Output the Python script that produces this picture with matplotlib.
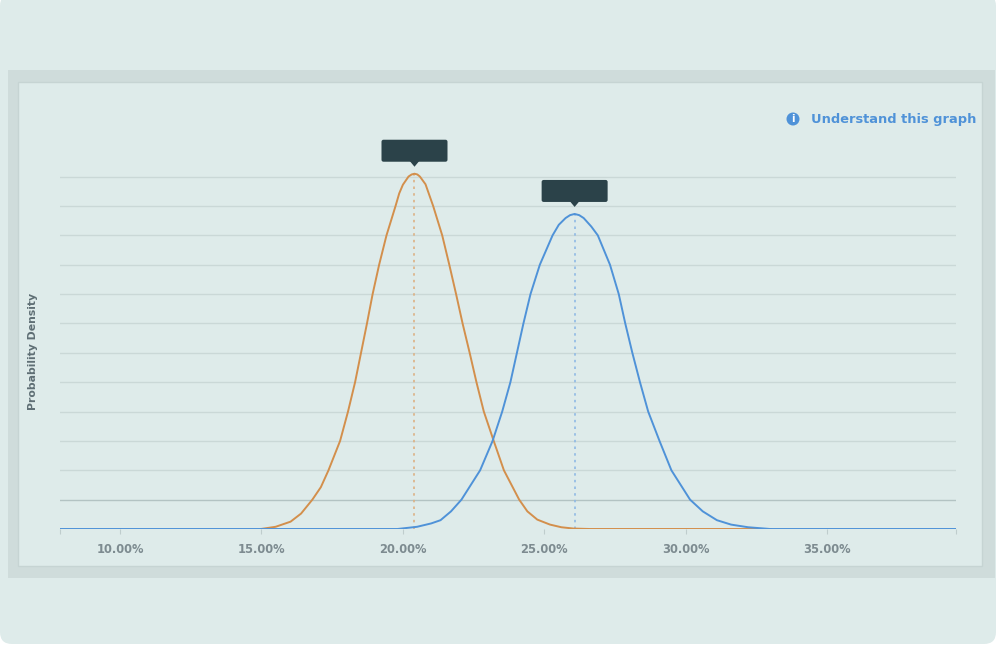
import numpy as np
import matplotlib.pyplot as plt
from matplotlib.patches import FancyBboxPatch, Rectangle, Polygon, Circle
from matplotlib.transforms import IdentityTransform

# return (%) and probability density
orange_x = [14.98, 15.5, 16.03, 16.4, 16.80, 17.1, 17.37, 17.78, 18.06, 18.31,
            18.52, 18.73, 18.93, 19.16, 19.42, 19.74, 19.87, 20.0, 20.2, 20.31,
            20.41, 20.51, 20.6, 20.8, 21.07, 21.39, 21.64, 21.88, 22.11, 22.36,
            22.60, 22.86, 23.21, 23.57, 24.11, 24.4, 24.75, 25.2, 25.6, 26.03,
            26.6, 33.0]
orange_y = [0.0, 0.0015, 0.005, 0.0105, 0.020, 0.0285, 0.040, 0.060, 0.080, 0.100,
            0.120, 0.140, 0.160, 0.180, 0.200, 0.220, 0.2286, 0.2345, 0.2401, 0.2415,
            0.242, 0.2415, 0.2401, 0.2348, 0.220, 0.200, 0.180, 0.160, 0.140, 0.120,
            0.100, 0.080, 0.060, 0.040, 0.020, 0.012, 0.0064, 0.003, 0.0012, 0.0003,
            0.0, 0.0]

blue_x = [7.88, 19.81, 20.5, 21.0, 21.33, 21.7, 22.07, 22.73, 23.17, 23.51,
          23.80, 24.03, 24.26, 24.51, 24.84, 25.29, 25.51, 25.75, 25.91, 26.07,
          26.23, 26.39, 26.66, 26.89, 27.32, 27.63, 27.86, 28.11, 28.38, 28.67,
          29.07, 29.49, 30.15, 30.6, 31.10, 31.6, 32.2, 32.98, 39.55]
blue_y = [0.0, 0.0, 0.0015, 0.0038, 0.006, 0.012, 0.020, 0.040, 0.060, 0.080,
          0.100, 0.120, 0.140, 0.160, 0.180, 0.200, 0.2072, 0.2118, 0.2138, 0.2146,
          0.2138, 0.2118, 0.206, 0.200, 0.180, 0.160, 0.140, 0.120, 0.100, 0.080,
          0.060, 0.040, 0.020, 0.012, 0.006, 0.003, 0.0012, 0.0, 0.0]

x_ticks = [10, 15, 20, 25, 30, 35]
x_labels = ['10.00%', '15.00%', '20.00%', '25.00%', '30.00%', '35.00%']
y_grid = [0.02 * i for i in range(13)]

ORANGE = '#d38f4c'
BLUE = '#4f92d8'
CARD = '#deebea'
BAND = '#cfdcdb'
TIP = '#2b4249'

fig = plt.figure(figsize=(10, 6.5), dpi=100, facecolor='white')
px = IdentityTransform()

# card, band and inner panel (pixel coords, y from bottom)
fig.add_artist(FancyBboxPatch((0, 6), 996, 650, boxstyle='round,pad=0,rounding_size=12',
                              transform=px, fc=CARD, ec='none', zorder=-10))
fig.add_artist(Rectangle((8, 72), 987, 508, transform=px, fc=BAND, ec='none', zorder=-9))
fig.add_artist(Rectangle((18, 84), 964, 484, transform=px, fc=CARD, ec='#c6d4d3',
                         lw=1, zorder=-8))

ax = fig.add_axes([0.06, 121 / 650, 0.896, (529 - 147.3) / 650])
ax.set_facecolor('none')
ax.set_xlim(7.88, 39.55)
ax.set_ylim(0, 0.26)

for y in y_grid[1:]:
    ax.axhline(y, color='#b3c3c3' if abs(y - 0.02) < 1e-9 else '#cad8d7', lw=1, zorder=1)

ax.plot(orange_x, orange_y, color=ORANGE, lw=1.4, zorder=3, solid_joinstyle='round')
ax.plot(blue_x, blue_y, color=BLUE, lw=1.4, zorder=4, solid_joinstyle='round')

# dotted drop line + empty tooltip box above each peak
for xs, ys, dc in [(orange_x, orange_y, '#dcb185'), (blue_x, blue_y, '#8fb9e4')]:
    i = int(np.argmax(ys))
    xp, yp = xs[i], ys[i]
    ax.vlines(xp, 0, yp, colors=dc, linestyles=(0, (1.5, 2.5)), lw=1.2, zorder=2)
    cx, cy = ax.transData.transform((xp, yp))
    b0 = cy + 12
    fig.add_artist(FancyBboxPatch((cx - 33, b0), 66, 22, boxstyle='round,pad=0,rounding_size=2',
                                  transform=px, fc=TIP, ec='none', zorder=5))
    fig.add_artist(Polygon([(cx - 5, b0 + 1), (cx + 5, b0 + 1), (cx, b0 - 5)],
                           closed=True, transform=px, fc=TIP, ec='none', zorder=5))

for s in ax.spines.values():
    s.set_visible(False)
ax.set_yticks([])
ax.set_xticks(x_ticks)
ax.set_xticklabels(x_labels, fontsize=8.3, color='#7d8b90', fontweight='semibold')
ax.set_xticks([7.88, 39.55], minor=True)
ax.tick_params(axis='x', which='both', length=3.5, width=0.8, color='#bfcdcd', pad=6.5)

fig.text(33, 650 - 351, 'Probability Density', transform=px, rotation=90,
         ha='center', va='center', fontsize=7.8, fontweight='bold', color='#5f6f75')

fig.add_artist(Circle((793, 650 - 119), 6.5, transform=px, fc=BLUE, ec='none'))
fig.text(793, 650 - 119, 'i', transform=px, ha='center', va='center',
         fontsize=7, fontweight='bold', color='white')
fig.text(811, 650 - 119, 'Understand this graph', transform=px, ha='left', va='center',
         fontsize=9.4, fontweight='bold', color=BLUE)

fig.savefig('out.png', dpi=100, facecolor='white')
